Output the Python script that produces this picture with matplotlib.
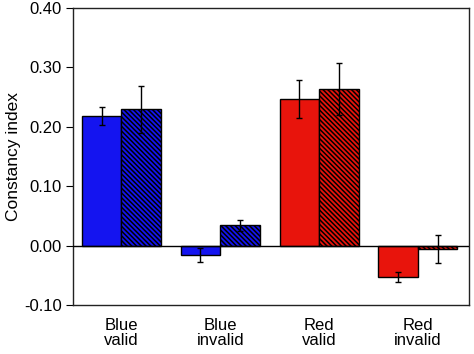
import matplotlib.pyplot as plt
import numpy as np

plt.rcParams['font.family'] = ['Liberation Sans', 'DejaVu Sans']
plt.rcParams['hatch.linewidth'] = 1.1

# Groups and values
groups = ['Blue\nvalid', 'Blue\ninvalid', 'Red\nvalid', 'Red\ninvalid']
solid_vals = [0.218, -0.0155, 0.247, -0.0525]
solid_err = [0.015, 0.012, 0.032, 0.009]
hatched_vals = [0.229, 0.034, 0.264, -0.0055]
hatched_err = [0.040, 0.010, 0.044, 0.024]
colors = ['#1414f0', '#1414f0', '#e8140c', '#e8140c']

fig = plt.figure(figsize=(4.74, 3.54), dpi=100)
ax = fig.add_axes([0.154, 0.138, 0.836, 0.84])

x = np.arange(len(groups))
w = 0.4
ax.bar(x - w / 2, solid_vals, w, color=colors, edgecolor='black', linewidth=1,
       yerr=solid_err, error_kw=dict(ecolor='black', elinewidth=1, capsize=2.5, capthick=1))
ax.bar(x + w / 2, hatched_vals, w, color=colors, edgecolor='black', linewidth=1,
       hatch='\\' * 7,
       yerr=hatched_err, error_kw=dict(ecolor='black', elinewidth=1, capsize=2.5, capthick=1))

ax.axhline(0, color='black', linewidth=1, zorder=3)

ax.set_xlim(-0.49, 3.52)
ax.set_ylim(-0.10, 0.40)
ax.set_yticks([-0.10, 0.00, 0.10, 0.20, 0.30, 0.40])
ax.set_yticklabels(['-0.10', '0.00', '0.10', '0.20', '0.30', '0.40'])
ax.set_xticks(x)
ax.set_xticklabels(groups, linespacing=1.05)
ax.tick_params(axis='x', length=0, pad=9, labelsize=12)
ax.tick_params(axis='y', direction='out', length=5, labelsize=12, pad=3)
ax.set_ylabel('Constancy index', fontsize=12.5, labelpad=2)

for s in ax.spines.values():
    s.set_linewidth(1)
    s.set_color('#222222')

plt.savefig('out.png', dpi=100)
